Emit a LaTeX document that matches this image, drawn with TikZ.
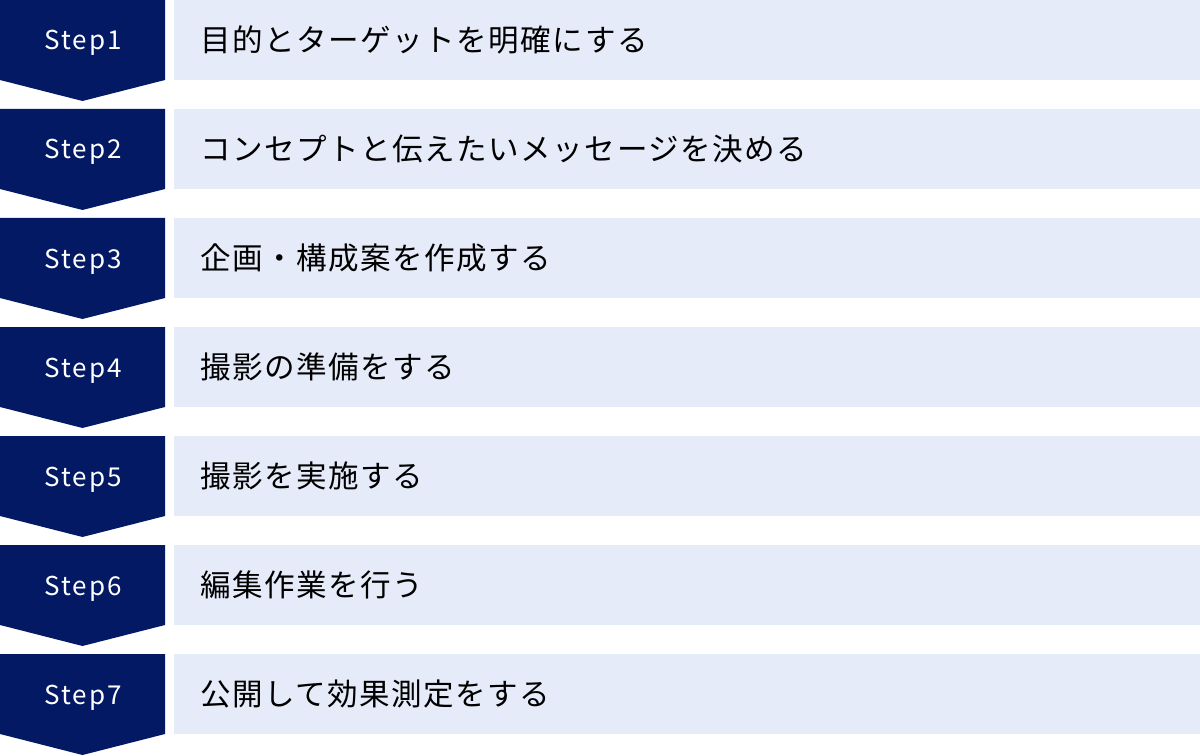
\documentclass[tikz,border=0pt]{standalone}
\usepackage{fontspec}
\setmainfont{Noto Sans CJK JP}
\newfontfamily\stepfont[LetterSpace=8]{Noto Sans CJK JP}
\newfontfamily\taskfont[LetterSpace=5]{Noto Sans CJK JP}
\usetikzlibrary{positioning}
\definecolor{navy}{RGB}{4,25,99}
\definecolor{paleblue}{RGB}{230,235,249}

\begin{document}
\begin{tikzpicture}[x=0.75pt,y=-0.75pt,
  chevron/.style={fill=navy,draw=none},
  steplabel/.style={text=white,anchor=base,font=\stepfont\fontsize{19.5pt}{21pt}\selectfont,inner sep=0pt},
  taskbox/.style={fill=paleblue,anchor=north west,minimum height=60pt,inner ysep=0pt,
    inner xsep=19.5pt,text width=730.5pt,align=left,
    font=\taskfont\fontsize{22.9pt}{25pt}\selectfont}]
  \useasboundingbox (0,0) rectangle (1200,756);
  \foreach \task [count=\i] in {目的とターゲットを明確にする,
      コンセプトと伝えたいメッセージを決める,
      企画・構成案を作成する,
      撮影の準備をする,
      撮影を実施する,
      編集作業を行う,
      公開して効果測定をする}{
    \pgfmathsetmacro{\rowtop}{109*(\i-1)}
    % chevron with step number
    \fill[chevron] (0,\rowtop) -- ++(165,0) -- ++(0,80) -- ++(-82.5,21) -- ++(-82.5,-21) -- cycle;
    \node[steplabel] (step\i) at (83,\rowtop+50) {Step\i};
    % task text
    \node[taskbox] (task\i) at (174,\rowtop) {\task};
  }
\end{tikzpicture}
\end{document}
